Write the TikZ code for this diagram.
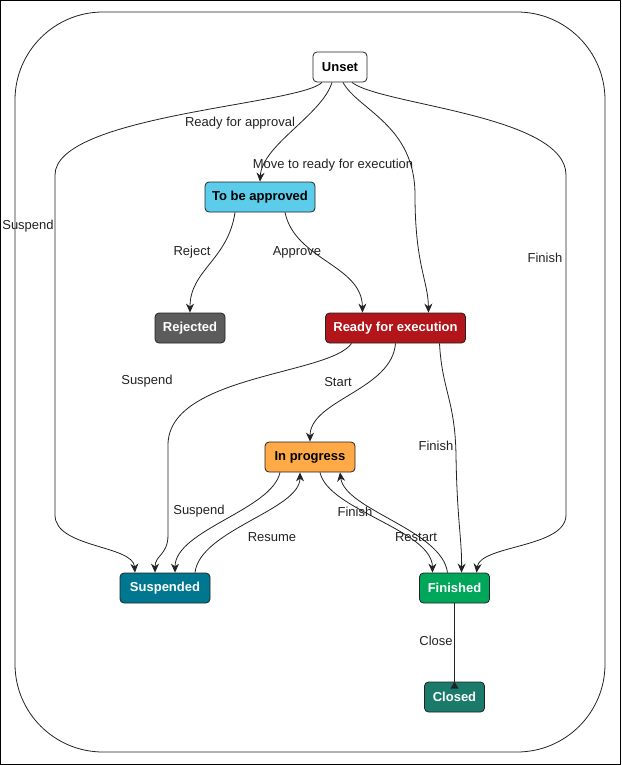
\documentclass[tikz,border=0pt]{standalone}
\usepackage{fontspec}
\setmainfont{Liberation Sans}
\usetikzlibrary{arrows.meta}

\definecolor{approvecol}{HTML}{5BCDEB}
\definecolor{rejectcol}{HTML}{5C5C5C}
\definecolor{readycol}{HTML}{B2151A}
\definecolor{progresscol}{HTML}{FFA947}
\definecolor{suspendcol}{HTML}{007791}
\definecolor{finishcol}{HTML}{00A65A}
\definecolor{closedcol}{HTML}{1A7B6B}
\definecolor{linecol}{HTML}{222222}

\tikzset{
  state/.style={draw=linecol, line width=0.8pt, rounded corners=4pt, minimum height=30pt,
    inner sep=0pt, font=\fontsize{13}{15}\selectfont\bfseries, text=white},
  trans/.style={font=\fontsize{13}{15}\selectfont, inner sep=0pt, text=linecol},
  flow/.style={draw=linecol, line width=0.8pt, -{Stealth[length=9pt,width=8pt]}}
}

\begin{document}
\begin{tikzpicture}[x=1pt,y=-1pt]
\useasboundingbox (0,0) rectangle (621,765);
\draw[line width=1pt] (0.5,0.5) rectangle (620.5,764.5);
\draw[draw=linecol, line width=0.8pt, rounded corners=88pt] (15,12) rectangle (605,752);

\node[state, fill=white, text=black, minimum width=54pt] (unset) at (340,67) {Unset};

\node[state, fill=approvecol, text=black, minimum width=110pt] (approve) at (260,197) {To be approved};

\node[state, fill=rejectcol, minimum width=70pt] (rejected) at (190,328) {Rejected};
\node[state, fill=readycol, minimum width=140pt] (ready) at (395.5,328) {Ready for execution};

\node[state, fill=progresscol, text=black, minimum width=90pt] (progress) at (310,457) {In progress};

\node[state, fill=suspendcol, minimum width=90pt] (suspended) at (165,588) {Suspended};
\node[state, fill=finishcol, minimum width=70pt] (finished) at (454.5,588) {Finished};

\node[state, fill=closedcol, minimum width=60pt] (closed) at (454.5,697) {Closed};

% from Unset
\draw[flow] ([xshift=-18pt]unset.south) .. controls (300,105) and (55,115) .. (55,175)
  -- (55,515) .. controls (55,548) and (133,545) .. ([xshift=-30pt]suspended.north);
\draw[flow] ([xshift=-8pt]unset.south) .. controls (322,115) and (262,145) .. (approve.north);
\draw[flow] ([xshift=3pt]unset.south) .. controls (358,110) and (415,125) .. (415,195)
  .. controls (415,265) and (428,280) .. ([xshift=33pt]ready.north);
\draw[flow] ([xshift=12pt]unset.south) .. controls (380,105) and (566,115) .. (566,175)
  -- (566,515) .. controls (566,548) and (480,545) .. ([xshift=22pt]finished.north);

% from To be approved
\draw[flow] ([xshift=-25pt]approve.south) .. controls (228,260) and (190,270) .. (rejected.north);
\draw[flow] ([xshift=25pt]approve.south) .. controls (295,260) and (362,265) .. ([xshift=-33pt]ready.north);

% from Ready for execution
\draw[flow] ([xshift=-44pt]ready.south) .. controls (330,375) and (168,375) .. (168,445)
  -- (168,535) .. controls (168,555) and (155,555) .. ([xshift=-10pt]suspended.north);
\draw[flow] (ready.south) .. controls (392,390) and (310,400) .. (progress.north);
\draw[flow] ([xshift=44pt]ready.south) .. controls (442,390) and (455,400) .. (456,455)
  .. controls (457,520) and (462,540) .. ([xshift=7pt]finished.north);

% around In progress
\draw[flow] ([xshift=-30pt]progress.south) .. controls (272,510) and (175,530) .. ([xshift=10pt]suspended.north);
\draw[flow] ([xshift=30pt]suspended.north) .. controls (200,530) and (300,510) .. ([xshift=-10pt]progress.south);
\draw[flow] ([xshift=10pt]progress.south) .. controls (328,510) and (432,530) .. ([xshift=-22pt]finished.north);
\draw[flow] ([xshift=-7pt]finished.north) .. controls (442,530) and (345,510) .. ([xshift=30pt]progress.south);

% closing
\draw[draw=linecol, line width=0.8pt] (finished.south) -- (closed.north);
\fill[linecol] (closed.north) -- ++(-4,7) -- ++(8,0) -- cycle;

% labels
\node[trans] (lsuspendA) at (28,226) {Suspend};
\node[trans] (lreadyapp) at (240,123) {Ready for approval};
\node[trans] (lmove) at (333,165) {Move to ready for execution};
\node[trans] (lfinishA) at (545,258) {Finish};
\node[trans] (lreject) at (192,252) {Reject};
\node[trans] (lapprove) at (297,252) {Approve};
\node[trans] (lsuspendB) at (147,381) {Suspend};
\node[trans] (lstart) at (338,382) {Start};
\node[trans] (lfinishB) at (436,446) {Finish};
\node[trans] (lsuspendC) at (199,511) {Suspend};
\node[trans] (lresume) at (272,537) {Resume};
\node[trans] (lfinishC) at (355,512) {Finish};
\node[trans] (lrestart) at (416,537) {Restart};
\node[trans] (lclose) at (436,641) {Close};
\end{tikzpicture}
\end{document}
